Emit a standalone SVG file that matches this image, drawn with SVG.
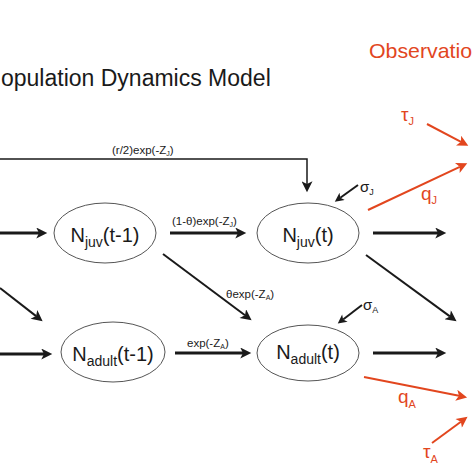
<svg xmlns="http://www.w3.org/2000/svg" width="474" height="474" viewBox="0 0 474 474">
<style>
  text { font-family: "Liberation Sans", Arial, sans-serif; fill: #1a1a1a; }
  .title { font-size: 23px; }
  .obs { font-size: 21px; fill: #E2461E; }
  .node ellipse { fill: #fff; stroke: #555; stroke-width: 1; }
  .nlab { font-size: 20px; }
  .sub { font-size: 14px; }
  .elab { font-size: 11.5px; }
  .esub { font-size: 7px; }
  .sig { font-size: 15px; }
  .ssub { font-size: 9px; }
  .rlab { font-size: 19px; fill: #E2461E; }
  .rsub { font-size: 11px; fill: #E2461E; }
  .thick { stroke: #1a1a1a; stroke-width: 3; fill: none; marker-end: url(#bigHead); }
  .mid { stroke: #1a1a1a; stroke-width: 2; fill: none; marker-end: url(#midHead); }
  .thin { stroke: #1a1a1a; stroke-width: 1.5; fill: none; marker-end: url(#midHead); }
  .small { stroke: #1a1a1a; stroke-width: 2; fill: none; marker-end: url(#smallHead); }
  .rarrow { stroke: #E2461E; stroke-width: 2; fill: none; marker-end: url(#redHead); }
</style>
<defs>
  <marker id="bigHead" viewBox="0 0 10 10" refX="2.5" refY="5" markerWidth="16" markerHeight="11" markerUnits="userSpaceOnUse" orient="auto">
    <path d="M0,0 L10,5 L0,10 L2.5,5 z" fill="#1a1a1a"/>
  </marker>
  <marker id="midHead" viewBox="0 0 10 10" refX="2.5" refY="5" markerWidth="15" markerHeight="11" markerUnits="userSpaceOnUse" orient="auto">
    <path d="M0,0 L10,5 L0,10 L2.5,5 z" fill="#1a1a1a"/>
  </marker>
  <marker id="smallHead" viewBox="0 0 10 10" refX="2.5" refY="5" markerWidth="12" markerHeight="9" markerUnits="userSpaceOnUse" orient="auto">
    <path d="M0,0 L10,5 L0,10 L2.5,5 z" fill="#1a1a1a"/>
  </marker>
  <marker id="redHead" viewBox="0 0 10 10" refX="2.5" refY="5" markerWidth="15" markerHeight="11" markerUnits="userSpaceOnUse" orient="auto">
    <path d="M0,0 L10,5 L0,10 L2.5,5 z" fill="#E2461E"/>
  </marker>
</defs>
<rect width="474" height="474" fill="#fff"/>

<text class="title" x="1" y="86">opulation Dynamics Model</text>
<text class="obs" x="369" y="58" textLength="103" lengthAdjust="spacingAndGlyphs">Observatio</text>

<g id="connectors">
  <polyline class="thin" points="-2,159 307,159 307,184"/>
  <line class="thick" x1="-2" y1="233" x2="39" y2="233"/>
  <line class="thick" x1="170" y1="233" x2="238" y2="233"/>
  <line class="thick" x1="373" y1="233" x2="438" y2="233"/>
  <line class="thick" x1="-2" y1="354" x2="44" y2="354"/>
  <line class="thick" x1="175" y1="353" x2="243" y2="353"/>
  <line class="thick" x1="373" y1="353" x2="438" y2="353"/>
  <line class="mid" x1="0" y1="288" x2="36.1" y2="316.1"/>
  <line class="mid" x1="163" y1="254" x2="245" y2="315.3"/>
  <line class="mid" x1="366" y1="255" x2="449.9" y2="316.4"/>
  <line class="small" x1="358" y1="185" x2="340.3" y2="197.7"/>
  <line class="small" x1="362" y1="305" x2="343.1" y2="319.5"/>
  <line class="rarrow" x1="368" y1="210" x2="459.8" y2="166.8"/>
  <line class="rarrow" x1="427" y1="124" x2="461" y2="141.8"/>
  <line class="rarrow" x1="364" y1="377" x2="459" y2="395.8"/>
  <line class="rarrow" x1="432" y1="443" x2="460.9" y2="421.7"/>

  <text class="elab" x="112" y="154">(r/2)exp(-Z<tspan class="esub" dy="2">J</tspan><tspan dy="-2">)</tspan></text>
  <text class="elab" x="172" y="225">(1-θ)exp(-Z<tspan class="esub" dy="2">J</tspan><tspan dy="-2">)</tspan></text>
  <text class="elab" x="226" y="298">θexp(-Z<tspan class="esub" dy="2">A</tspan><tspan dy="-2">)</tspan></text>
  <text class="elab" x="187" y="347">exp(-Z<tspan class="esub" dy="2">A</tspan><tspan dy="-2">)</tspan></text>

  <text class="sig" x="360" y="192">σ<tspan class="ssub" dy="3">J</tspan></text>
  <text class="sig" x="363" y="310">σ<tspan class="ssub" dy="3">A</tspan></text>

  <text class="rlab" x="421" y="200">q<tspan class="rsub" dy="4">J</tspan></text>
  <text class="rlab" x="401" y="121">τ<tspan class="rsub" dy="4">J</tspan></text>
  <text class="rlab" x="398" y="403">q<tspan class="rsub" dy="5">A</tspan></text>
  <text class="rlab" x="423" y="458">τ<tspan class="rsub" dy="5">A</tspan></text>
</g>

<g id="node-njuv-t1" class="node">
  <ellipse cx="105" cy="233" rx="51" ry="30"/>
  <text class="nlab" x="105" y="242" text-anchor="middle">N<tspan class="sub" dy="5">juv</tspan><tspan dy="-5">(t-1)</tspan></text>
</g>
<g id="node-njuv-t" class="node">
  <ellipse cx="308" cy="233" rx="51" ry="30"/>
  <text class="nlab" x="308" y="242" text-anchor="middle">N<tspan class="sub" dy="5">juv</tspan><tspan dy="-5">(t)</tspan></text>
</g>
<g id="node-nadult-t1" class="node">
  <ellipse cx="113" cy="352" rx="52" ry="30"/>
  <text class="nlab" x="113" y="361" text-anchor="middle">N<tspan class="sub" dy="5">adult</tspan><tspan dy="-5">(t-1)</tspan></text>
</g>
<g id="node-nadult-t" class="node">
  <ellipse cx="308" cy="353" rx="51" ry="28"/>
  <text class="nlab" x="308" y="359" text-anchor="middle">N<tspan class="sub" dy="5">adult</tspan><tspan dy="-5">(t)</tspan></text>
</g>
</svg>
